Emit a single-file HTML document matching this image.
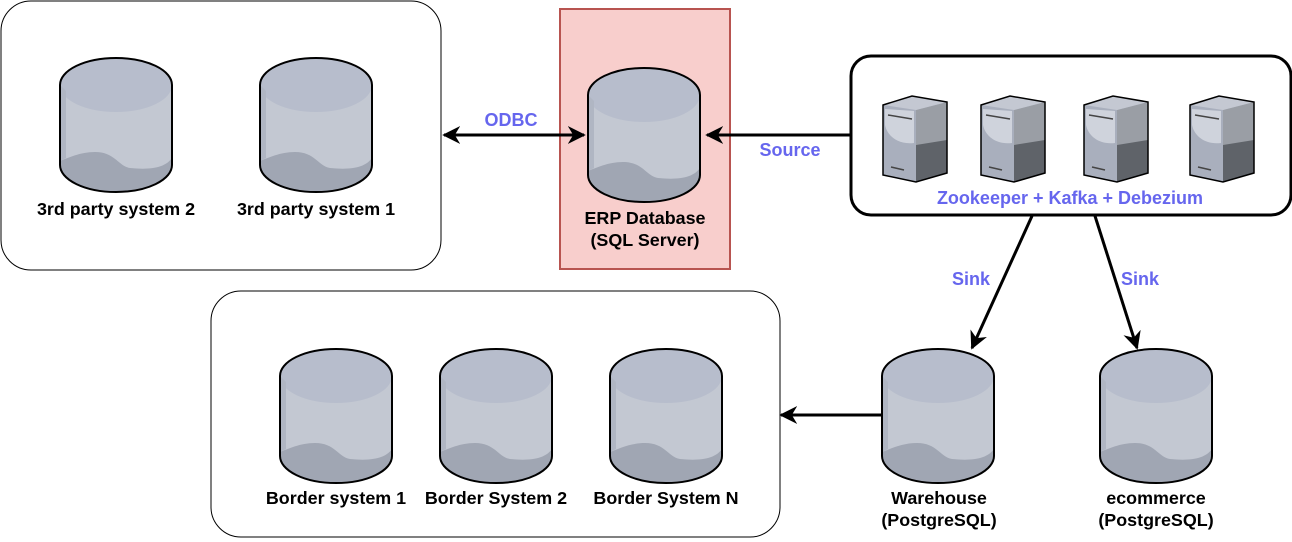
<!DOCTYPE html>
<html><head><meta charset="utf-8"><style>
html,body{margin:0;padding:0;background:#fff;}
svg{display:block;font-family:"Liberation Sans",Arial,sans-serif;font-weight:bold;}
</style></head><body>
<svg width="1292" height="542" viewBox="0 0 1292 542" xmlns="http://www.w3.org/2000/svg">
<defs>
<g id="cyl">
<path d="M0,27 A56,27 0 0 1 112,27 V107 A56,27 0 0 1 0,107 Z" fill="#c3c8d2"/>
<path d="M0,27 A56,27 0 0 1 112,27 A56,27 0 0 1 0,27 Z" fill="#b7bdcc"/>
<path d="M0,27 V107 A56,27 0 0 0 112,107 V27 V100 C105,110 90,112 70,110 C58,108 55,94 35,94 C20,94 8,100 0,103 Z" fill="#a0a6b3"/>
<path d="M0,27 L6,33 V100 L0,103 Z" fill="#b0b6c3"/>
<path d="M0,27 A56,27 0 0 1 112,27 V107 A56,27 0 0 1 0,107 Z" fill="none" stroke="#000" stroke-width="2"/>
</g>
<g id="srv">
<path d="M1,10 L30,1 L65,7 V78 L34,87 L1,80 Z" fill="#a9afbd"/>
<path d="M34,15 L65,7 V78 L34,87 Z" fill="#9a9ea5"/>
<path d="M34,50 L65,45 V78 L34,87 Z" fill="#5f6369"/>
<path d="M3,14 L32,16 V48 C15,50 5,40 3,30 Z" fill="#cfd3dc"/>
<path d="M1,10 L30,1 L65,7 L34,15 Z" fill="#c4c8d2"/>
<path d="M6,20 L30,24 M9,72 L22,75" stroke="#444" stroke-width="1.5"/>
<path d="M1,10 L30,1 L65,7 V78 L34,87 L1,80 Z" fill="none" stroke="#000" stroke-width="1.5"/>
</g>
<marker id="ah" viewBox="0 0 10 10" refX="9" refY="5" markerWidth="6" markerHeight="6" orient="auto-start-reverse" markerUnits="strokeWidth">
<path d="M0,0 L10,5 L0,10 L3,5 Z" fill="#000"/>
</marker>
</defs>

<rect x="1" y="1" width="440" height="269" rx="30" fill="#fff" stroke="#000" stroke-width="1"/>
<rect x="560" y="9" width="170" height="260" fill="#f8cecc" stroke="#b85450" stroke-width="2"/>
<rect x="851" y="56" width="440" height="159" rx="20" fill="#fff" stroke="#000" stroke-width="3"/>
<rect x="211" y="291" width="569" height="246" rx="30" fill="#fff" stroke="#000" stroke-width="1"/>

<use href="#cyl" x="60" y="58"/>
<use href="#cyl" x="260" y="58"/>
<use href="#cyl" x="588" y="68"/>
<use href="#cyl" x="280" y="349"/>
<use href="#cyl" x="440" y="349"/>
<use href="#cyl" x="610" y="349"/>
<use href="#cyl" x="882" y="349"/>
<use href="#cyl" x="1100" y="349"/>

<use href="#srv" x="882" y="95"/>
<use href="#srv" x="980" y="95"/>
<use href="#srv" x="1083" y="95"/>
<use href="#srv" x="1189" y="95"/>

<g stroke="#000" stroke-width="3" fill="none">
<line x1="444" y1="135" x2="584" y2="135" marker-start="url(#ah)" marker-end="url(#ah)"/>
<line x1="851" y1="135" x2="707" y2="135" marker-end="url(#ah)"/>
<line x1="1032" y1="216" x2="972" y2="348" marker-end="url(#ah)"/>
<line x1="1095" y1="216" x2="1137" y2="348" marker-end="url(#ah)"/>
<line x1="882" y1="415" x2="781" y2="415" marker-end="url(#ah)"/>
</g>

<g font-size="17.9" fill="#000" text-anchor="middle">
<text x="116" y="215">3rd party system 2</text>
<text x="316" y="215">3rd party system 1</text>
<text x="645" y="224">ERP Database</text>
<text x="645" y="246">(SQL Server)</text>
<text x="336" y="504">Border system 1</text>
<text x="496" y="504">Border System 2</text>
<text x="666" y="504">Border System N</text>
<text x="939" y="504">Warehouse</text>
<text x="939" y="526">(PostgreSQL)</text>
<text x="1156" y="504">ecommerce</text>
<text x="1156" y="526">(PostgreSQL)</text>
</g>
<g font-size="18" fill="#6666ee" text-anchor="middle">
<text x="511" y="126">ODBC</text>
<text x="790" y="156">Source</text>
<text x="1070" y="204">Zookeeper + Kafka + Debezium</text>
<text x="971" y="285">Sink</text>
<text x="1140" y="285">Sink</text>
</g>
</svg>
</body></html>
